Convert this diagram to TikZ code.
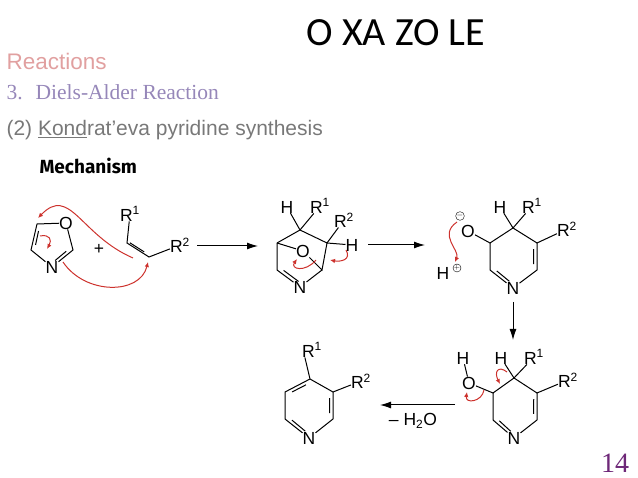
\documentclass[tikz,border=0pt]{standalone}
\usepackage{fontspec}
\setmainfont{Liberation Sans}
\newfontfamily\seriffont{Liberation Serif}
\newfontfamily\titlefont{Carlito}
\newfontfamily\mechfont{Fira Sans}
\usetikzlibrary{calc,arrows.meta}
\definecolor{rd}{RGB}{205,50,45}
\definecolor{pinkish}{RGB}{225,160,160}
\definecolor{lav}{RGB}{150,135,185}
\definecolor{gr}{RGB}{120,120,120}
\definecolor{pnum}{RGB}{110,40,120}
\tikzset{
 atom/.style={inner sep=0pt,font=\fontsize{17.5}{17.5}\selectfont},
 bond/.style={line width=1pt},
 rxn/.style={line width=1pt,-{Latex[length=11pt,width=7pt]}},
 push/.style={rd,line width=1pt,-{Latex[length=5pt,width=4.5pt]}},
}
\newcommand{\dbl}[3]{\draw[bond] ($($(#1)!.18!(#2)$)!3.5pt!(#3)$) -- ($($(#1)!.82!(#2)$)!3.5pt!(#3)$);}
\newcommand{\su}[1]{\textsuperscript{\fontsize{12}{12}\selectfont #1}}
\begin{document}
\begin{tikzpicture}[x=1pt,y=-1pt]
\useasboundingbox (0,0) rectangle (638,478);
% header
\node[font=\titlefont\fontsize{40}{40}\selectfont] (title) at (396,33) {O XA ZO LE};
\node[anchor=west,pinkish,font=\fontsize{22.5}{22}\selectfont] (reac) at (3,61) {Reactions};
\node[anchor=west,lav,font=\seriffont\fontsize{21.5}{22}\selectfont] (da) at (3,92) {3.\hspace{13pt}Diels-Alder Reaction};
\node[anchor=west,gr,font=\fontsize{21}{21}\selectfont] (kon) at (3,130) {(2) \underline{Kond}rat'eva pyridine synthesis};
\node[anchor=west,font=\mechfont\bfseries\fontsize{19}{19}\selectfont] (mech) at (36,166) {Mechanism};
\node[pnum,font=\seriffont\fontsize{28}{28}\selectfont] (pg) at (615,463) {14};
% oxazole
\node[atom] (oO) at (66,223) {O};
\node[atom] (oN) at (52,267) {N};
\coordinate (o2) at (73,250); \coordinate (o4) at (31,250); \coordinate (o5) at (37,224);
\coordinate (oc) at (52,243);
\draw[bond] (o5) -- (oO) -- (o2) -- (oN) -- (o4) -- (o5);
\dbl{o5}{o4}{oc}\dbl{oN}{o2}{oc}
\node[atom] (plus) at (99,249) {+};
% dienophile
\node[atom] (dR1) at (130,214) {R\su{1}};
\node[atom] (dR2) at (180,245) {R\su{2}};
\coordinate (d1) at (127,243); \coordinate (d2) at (149,257);
\draw[bond] (dR1) -- (d1) -- (d2) -- (dR2);
\draw[bond] ($(d1)!.2!(d2)+(-1.5,-3)$) -- ($(d1)!.85!(d2)+(-1.5,-3)$);
% arrow 1
\coordinate (a1s) at (197,246); \coordinate (a1e) at (258,246);
\draw[rxn] (a1s) -- (a1e);
% bicyclic
\node[atom] (bH) at (287,207) {H};
\node[atom] (bR1) at (320,206) {R\su{1}};
\node[atom] (bR2) at (344,220) {R\su{2}};
\node[atom] (bHr) at (352,245) {H};
\node[atom] (bO) at (303,251) {O};
\node[atom] (bN) at (300,287) {N};
\coordinate (b7) at (300,230); \coordinate (bL) at (277,243); \coordinate (bR) at (327,243);
\coordinate (bB) at (322,270); \coordinate (bLd) at (277,270);
\draw[bond] (bH) -- (b7) -- (bR1);
\draw[bond] (bL) -- (b7) -- (bR) -- (bR2);
\draw[bond] (bR) -- (bHr);
\draw[bond] (bL) -- (bO) -- (bB) -- (bR);
\draw[bond] (bL) -- (bLd) -- (bN) -- (bB);
\draw[bond] ($(bLd)!.2!(bN)+(2,-3)$) -- ($(bLd)!.85!(bN)+(2,-3)$);
% arrow 2
\coordinate (a2s) at (368,245); \coordinate (a2e) at (425,245);
\draw[rxn] (a2s) -- (a2e);
% intermediate 1
\node[atom] (iO) at (468,231) {O};
\node[atom,inner sep=0pt,font=\fontsize{8}{8}\selectfont,draw,circle,minimum size=7pt] (iminus) at (460,216) {$-$};
\node[atom] (iH) at (500,207) {H};
\node[atom] (iR1) at (532,206) {R\su{1}};
\node[atom] (iR2) at (567,229) {R\su{2}};
\node[atom] (iN) at (513,288) {N};
\node[atom] (iHp) at (443,273) {H};
\node[atom,inner sep=0pt,font=\fontsize{7}{7}\selectfont,draw,circle,minimum size=7pt] (iplus) at (457,268) {$+$};
\coordinate (i3) at (490,243); \coordinate (i4) at (513,228); \coordinate (i5) at (537,243);
\coordinate (i6) at (537,270); \coordinate (i2) at (490,270); \coordinate (ic) at (513,257);
\draw[bond] (iO) -- (i3) -- (i4) -- (iH); \draw[bond] (i4) -- (iR1);
\draw[bond] (i4) -- (i5) -- (iR2); \draw[bond] (i5) -- (i6) -- (iN) -- (i2) -- (i3);
\dbl{i5}{i6}{ic}\dbl{i2}{iN}{ic}
% down arrow
\coordinate (a3s) at (513,302); \coordinate (a3e) at (513,340);
\draw[rxn] (a3s) -- (a3e);
% intermediate 2
\node[atom] (jHO) at (463,358) {H};
\node[atom] (jO) at (469,383) {O};
\node[atom] (jH) at (501,358) {H};
\node[atom] (jR1) at (534,357) {R\su{1}};
\node[atom] (jR2) at (568,380) {R\su{2}};
\node[atom] (jN) at (514,438) {N};
\coordinate (j3) at (493,393); \coordinate (j4) at (514,378); \coordinate (j5) at (537,393);
\coordinate (j6) at (537,420); \coordinate (j2) at (493,420); \coordinate (jc) at (514,407);
\draw[bond] (jHO) -- (jO) -- (j3) -- (j4) -- (jH); \draw[bond] (j4) -- (jR1);
\draw[bond] (j4) -- (j5) -- (jR2); \draw[bond] (j5) -- (j6) -- (jN) -- (j2) -- (j3);
\dbl{j5}{j6}{jc}\dbl{j2}{jN}{jc}
% arrow 4
\coordinate (a4s) at (455,405); \coordinate (a4e) at (380,405);
\draw[rxn] (a4s) -- (a4e);
\node[atom] (h2o) at (413,421) {– H\textsubscript{\fontsize{12}{12}\selectfont 2}O};
% product
\node[atom] (pR1) at (312,350) {R\su{1}};
\node[atom] (pR2) at (361,381) {R\su{2}};
\node[atom] (pN) at (309,438) {N};
\coordinate (p4) at (310,379); \coordinate (p3) at (333,392); \coordinate (p2) at (333,419);
\coordinate (p6) at (285,419); \coordinate (p5) at (285,392); \coordinate (pc) at (309,406);
\draw[bond] (pR1.south west) ++(3,0) coordinate (pR1b) -- (p4);
\draw[bond] (p4) -- (p3) -- (pR2); \draw[bond] (p3) -- (p2) -- (pN) -- (p6) -- (p5) -- (p4);
\dbl{p4}{p5}{pc}\dbl{p6}{pN}{pc}\dbl{p3}{p2}{pc}
% red arrows
\draw[push] (133,258) .. controls (80,235) and (70,185) .. (38,218);
\draw[push] (63,262) .. controls (85,295) and (140,295) .. (148,262);
\draw[push] (40,236) .. controls (50,234) and (52,240) .. (47,249);
\draw[push] (346,250) .. controls (352,260) and (340,262) .. (330,260);
\draw[push] (316,260) .. controls (305,273) and (290,269) .. (297,259);
\draw[push] (457,222) .. controls (438,235) and (460,250) .. (455,262);
\draw[push] (507,372) .. controls (498,365) and (494,372) .. (500,384);
\draw[push] (484,390) .. controls (482,402) and (465,404) .. (467,392);
\end{tikzpicture}
\end{document}
